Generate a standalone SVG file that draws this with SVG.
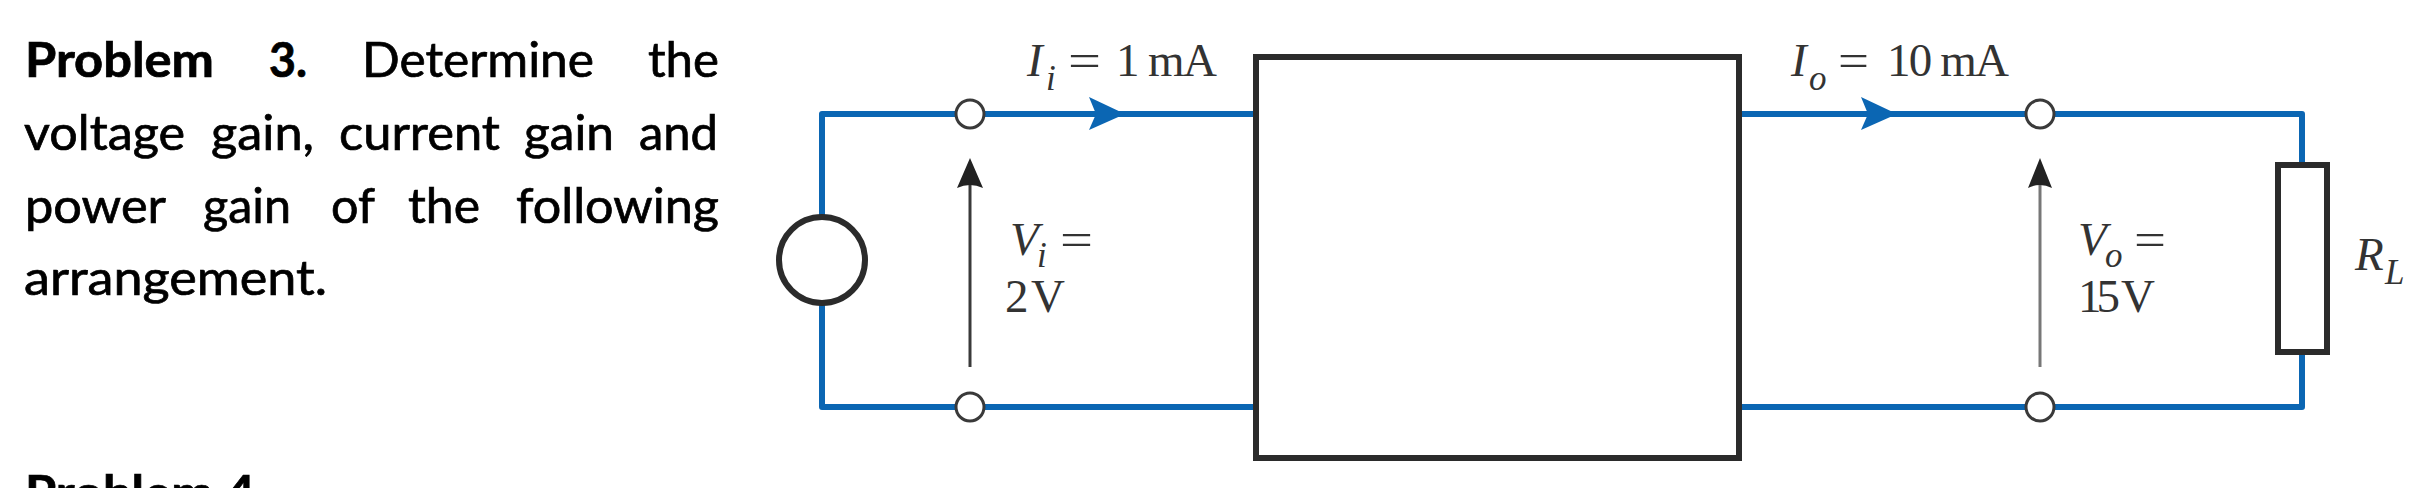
<svg xmlns="http://www.w3.org/2000/svg" width="2428" height="488" viewBox="0 0 2428 488">
<style>
.b{font-family:"Lato","Open Sans",sans-serif;font-size:48px;fill:#000;stroke:#000;stroke-width:.7}
.h{font-weight:700}
.m{font-family:"Liberation Serif",serif;font-size:47px;fill:#333}
.i{font-style:italic}
.s{font-size:35px}
.w{fill:none;stroke:#0b66b3;stroke-width:6;stroke-linejoin:round}
.k{fill:#fff;stroke:#2b2b2b;stroke-width:6}
.t{fill:#fff;stroke:#3a3a3a;stroke-width:3}
.e{stroke:#3a3a3a;stroke-width:3}
</style>
<defs>
<marker id="ca" markerUnits="userSpaceOnUse" markerWidth="38" markerHeight="36" refX="36" refY="18" orient="auto" viewBox="0 0 38 36"><path d="M1 1L37 18L1 34L8 18Z" fill="#0b66b3"/></marker>
</defs>
<rect width="2428" height="488" fill="#fff"/>
<g id="problem-text">
<text class="b h" y="77"><tspan x="25" textLength="189" lengthAdjust="spacingAndGlyphs">Problem</tspan><tspan x="269" textLength="38" lengthAdjust="spacingAndGlyphs">3.</tspan></text>
<text class="b" y="77"><tspan x="362" textLength="232" lengthAdjust="spacingAndGlyphs">Determine</tspan><tspan x="648" textLength="71" lengthAdjust="spacingAndGlyphs">the</tspan></text>
<text class="b" y="150"><tspan x="24" textLength="161" lengthAdjust="spacingAndGlyphs">voltage</tspan><tspan x="211" textLength="103" lengthAdjust="spacingAndGlyphs">gain,</tspan><tspan x="339" textLength="161" lengthAdjust="spacingAndGlyphs">current</tspan><tspan x="524" textLength="90" lengthAdjust="spacingAndGlyphs">gain</tspan><tspan x="639" textLength="79" lengthAdjust="spacingAndGlyphs">and</tspan></text>
<text class="b" y="223"><tspan x="25" textLength="141" lengthAdjust="spacingAndGlyphs">power</tspan><tspan x="203" textLength="88" lengthAdjust="spacingAndGlyphs">gain</tspan><tspan x="331" textLength="44" lengthAdjust="spacingAndGlyphs">of</tspan><tspan x="408" textLength="72" lengthAdjust="spacingAndGlyphs">the</tspan><tspan x="516" textLength="203" lengthAdjust="spacingAndGlyphs">following</tspan></text>
<text class="b" y="295" x="24" textLength="303" lengthAdjust="spacingAndGlyphs">arrangement.</text>
<text class="b h" y="510" x="25" textLength="230" lengthAdjust="spacingAndGlyphs">Problem 4</text>
</g>
<g id="connectors">
<path class="w" d="M1256 114H822V407H1256"/>
<path class="w" d="M1740 114H2302V407H1740"/>
<line x1="1080" y1="114" x2="1124" y2="114" class="w" marker-end="url(#ca)"/>
<line x1="1850" y1="114" x2="1896" y2="114" class="w" marker-end="url(#ca)"/>
<line class="e" x1="970" y1="367" x2="970" y2="170"/>
<line class="e" x1="2040" y1="367" x2="2040" y2="170" style="stroke:#777"/>
<path d="M970 158L983 188Q970 182 957 188Z" fill="#222"/>
<path d="M2040 158L2052 188Q2040 182 2028 188Z" fill="#222"/>
</g>
<g id="source"><circle class="k" cx="822" cy="260" r="43"/></g>
<g id="amplifier"><rect class="k" x="1256" y="57" width="483" height="401"/></g>
<g id="load"><rect class="k" x="2278" y="165" width="49" height="187"/></g>
<g id="terminal-in-top"><circle class="t" cx="970" cy="114" r="14"/></g>
<g id="terminal-in-bottom"><circle class="t" cx="970" cy="407" r="14"/></g>
<g id="terminal-out-top"><circle class="t" cx="2040" cy="114" r="14"/></g>
<g id="terminal-out-bottom"><circle class="t" cx="2040" cy="407" r="14"/></g>
<g id="labels">
<text class="m"><tspan class="i" x="1027" y="76">I</tspan><tspan class="i s" x="1046" y="90">i</tspan><tspan x="1068" y="76" textLength="33" lengthAdjust="spacingAndGlyphs">=</tspan><tspan x="1116" y="76" textLength="101" lengthAdjust="spacing">1 mA</tspan></text>
<text class="m"><tspan class="i" x="1010" y="255">V</tspan><tspan class="i s" x="1037" y="267">i</tspan><tspan x="1060" y="255" textLength="33" lengthAdjust="spacingAndGlyphs">=</tspan></text>
<text class="m" x="1005" y="312" textLength="60" lengthAdjust="spacing">2 V</text>
<text class="m"><tspan class="i" x="1791" y="76">I</tspan><tspan class="i s" x="1809" y="90">o</tspan><tspan x="1838" y="76" textLength="31" lengthAdjust="spacingAndGlyphs">=</tspan><tspan x="1887" y="76" textLength="122" lengthAdjust="spacing">10 mA</tspan></text>
<text class="m"><tspan class="i" x="2078" y="255">V</tspan><tspan class="i s" x="2105" y="267">o</tspan><tspan x="2134" y="255" textLength="32" lengthAdjust="spacingAndGlyphs">=</tspan></text>
<text class="m" x="2078" y="312" textLength="77" lengthAdjust="spacing">15 V</text>
<text class="m"><tspan class="i" x="2355" y="270">R</tspan><tspan class="i s" x="2385" y="284">L</tspan></text>
</g>
</svg>
